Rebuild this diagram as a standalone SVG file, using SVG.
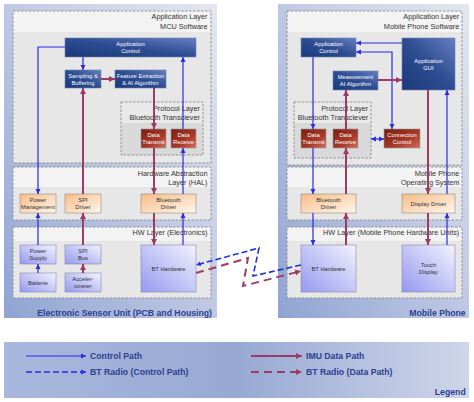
<svg xmlns="http://www.w3.org/2000/svg" width="474" height="402" viewBox="0 0 474 402">
<defs>
<linearGradient id="gPanel" x1="0" y1="1" x2="1" y2="0">
<stop offset="0" stop-color="#8fa3d3"/><stop offset="0.55" stop-color="#c3cce5"/><stop offset="1" stop-color="#e3e7f1"/>
</linearGradient>
<linearGradient id="gLegend" x1="0" y1="0" x2="1" y2="0">
<stop offset="0" stop-color="#a9b8de"/><stop offset="0.5" stop-color="#97a9d3"/><stop offset="1" stop-color="#cfd6ea"/>
</linearGradient>
<linearGradient id="gBlue" x1="0" y1="1" x2="1" y2="0">
<stop offset="0" stop-color="#1c3878"/><stop offset="0.5" stop-color="#2d4c92"/><stop offset="1" stop-color="#6680c0"/>
</linearGradient>
<linearGradient id="gRed" x1="0" y1="0" x2="1" y2="1">
<stop offset="0" stop-color="#7c1d0f"/><stop offset="0.6" stop-color="#a8392a"/><stop offset="1" stop-color="#d2705e"/>
</linearGradient>
<linearGradient id="gOrange" x1="0" y1="0" x2="1" y2="1">
<stop offset="0" stop-color="#f6bd87"/><stop offset="1" stop-color="#fff6ee"/>
</linearGradient>
<linearGradient id="gLav" x1="0" y1="1" x2="1" y2="0">
<stop offset="0" stop-color="#9599ee"/><stop offset="1" stop-color="#f3f3ff"/>
</linearGradient>
<marker id="ab" markerUnits="userSpaceOnUse" markerWidth="6" markerHeight="6" refX="5" refY="3" orient="auto-start-reverse">
<path d="M0,0.5 L5,3 L0,5.5 z" fill="#2b2be8"/>
</marker>
<marker id="ar" markerUnits="userSpaceOnUse" markerWidth="7" markerHeight="7" refX="6" refY="3.5" orient="auto">
<path d="M0,0.5 L6,3.5 L0,6.5 z" fill="#9c3b63"/>
</marker>
<style>
.panel{fill:url(#gPanel)}
.lay{fill:#e7e7e7}
.hdr{fill:#f3f3f3}
.prot{fill:#d9d9d9}
.phdr{fill:#e9e9e9}
.dash{fill:none;stroke:#8a8a8a;stroke-width:0.9;stroke-dasharray:2.5,1.5}
.nb{fill:url(#gBlue);stroke:#6f82b2;stroke-width:0.6}
.nr{fill:url(#gRed);stroke:#9a9a9a;stroke-width:0.6}
.no{fill:url(#gOrange);stroke:#9a8a7a;stroke-width:0.6}
.nh{fill:url(#gLav);stroke:#8888aa;stroke-width:0.6}
text{font-family:"Liberation Sans",Arial,sans-serif}
.lt{font-size:7.3px;fill:#333;text-anchor:end}
.wt{font-size:5.8px;fill:#fff;text-anchor:middle}
.dt{font-size:5.8px;fill:#333;text-anchor:middle}
.big{font-size:8.7px;font-weight:bold;fill:#2e3f8e;text-anchor:end}
.leg{font-size:8.7px;font-weight:bold;fill:#2e3f8e}
.cb{fill:none;stroke:#2b2be8;stroke-width:1.2;marker-end:url(#ab)}
.cb2{fill:none;stroke:#2b2be8;stroke-width:1.2;marker-end:url(#ab);marker-start:url(#ab)}
.cr{fill:none;stroke:#9c3b63;stroke-width:2;marker-end:url(#ar)}
.db{fill:none;stroke:#1f2fe0;stroke-width:1.6;stroke-dasharray:6,3;marker-end:url(#ab)}
.dr{fill:none;stroke:#9c3b63;stroke-width:2;stroke-dasharray:8,5;marker-end:url(#ar)}
</style>
</defs>
<rect width="474" height="402" fill="#ffffff"/>

<!-- Left panel -->
<g id="sensor-unit">
<rect class="panel" x="4" y="4" width="213" height="314"/>
<text class="big" x="212" y="316">Electronic Sensor Unit (PCB and Housing)</text>
</g>
<g id="left-app-layer">
<rect class="lay" x="13" y="11" width="198" height="152"/>
<rect class="hdr" x="13" y="11" width="198" height="21"/>
<rect class="dash" x="13" y="11" width="198" height="152"/>
<text class="lt" x="207.5" y="19.3">Application Layer</text>
<text class="lt" x="207.5" y="28.6">MCU Software</text>
</g>
<g id="left-protocol-layer">
<rect class="prot" x="121" y="102" width="82" height="53"/>
<rect class="phdr" x="121" y="102" width="82" height="21"/>
<rect class="dash" x="121" y="102" width="82" height="53"/>
<text class="lt" x="200" y="111">Protocol Layer</text>
<text class="lt" x="200" y="120">Bluetooth Transciever</text>
</g>
<g id="left-hal-layer">
<rect class="lay" x="13" y="167" width="198" height="53"/>
<rect class="hdr" x="13" y="167" width="198" height="20"/>
<rect class="dash" x="13" y="167" width="198" height="53"/>
<text class="lt" x="207.5" y="175.6">Hardware Abstraction</text>
<text class="lt" x="207.5" y="184.6">Layer (HAL)</text>
</g>
<g id="left-hw-layer">
<rect class="lay" x="13" y="227" width="198" height="71"/>
<rect class="hdr" x="13" y="227" width="198" height="14"/>
<rect class="dash" x="13" y="227" width="198" height="71"/>
<text class="lt" x="207.5" y="235.3">HW Layer (Electronics)</text>
</g>

<!-- Right panel -->
<g id="mobile-phone">
<rect class="panel" x="278" y="4" width="191" height="314"/>
<text class="big" x="465.7" y="316">Mobile Phone</text>
</g>
<g id="right-app-layer">
<rect class="lay" x="287" y="11" width="175" height="154"/>
<rect class="hdr" x="287" y="11" width="175" height="21"/>
<rect class="dash" x="287" y="11" width="175" height="154"/>
<text class="lt" x="459.3" y="19.3">Application Layer</text>
<text class="lt" x="459.3" y="28.6">Mobile Phone Software</text>
</g>
<g id="right-protocol-layer">
<rect class="prot" x="294" y="102" width="77" height="56"/>
<rect class="phdr" x="294" y="102" width="77" height="21"/>
<rect class="dash" x="294" y="102" width="77" height="56"/>
<text class="lt" x="368.3" y="111">Protocol Layer</text>
<text class="lt" x="368.3" y="120">Bluetooth Transciever</text>
</g>
<g id="right-os-layer">
<rect class="lay" x="287" y="167" width="175" height="53"/>
<rect class="hdr" x="287" y="167" width="175" height="20"/>
<rect class="dash" x="287" y="167" width="175" height="53"/>
<text class="lt" x="459.3" y="175.6">Mobile Phone</text>
<text class="lt" x="459.3" y="184.6">Operating System</text>
</g>
<g id="right-hw-layer">
<rect class="lay" x="287" y="227" width="175" height="71"/>
<rect class="hdr" x="287" y="227" width="175" height="14"/>
<rect class="dash" x="287" y="227" width="175" height="71"/>
<text class="lt" x="459.3" y="235.3">HW Layer (Mobile Phone Hardware Units)</text>
</g>

<!-- Left nodes -->
<g id="l-app-control"><rect class="nb" x="65" y="38" width="131" height="19"/><text class="wt" x="130.5" y="46.4">Application</text><text class="wt" x="130.5" y="53.4">Control</text></g>
<g id="l-sampling"><rect class="nb" x="65" y="70" width="36" height="18"/><text class="wt" x="83" y="77.9">Sampling &amp;</text><text class="wt" x="83" y="84.9">Buffering</text></g>
<g id="l-feature"><rect class="nb" x="115" y="70" width="51" height="18"/><text class="wt" x="140.5" y="77.9">Feature Extraction</text><text class="wt" x="140.5" y="84.9">&amp; AI Algorithm</text></g>
<g id="l-data-transmit"><rect class="nr" x="141" y="129" width="25" height="19"/><text class="wt" x="153.5" y="137.4">Data</text><text class="wt" x="153.5" y="144.4">Transmit</text></g>
<g id="l-data-receive"><rect class="nr" x="171" y="129" width="25" height="19"/><text class="wt" x="183.5" y="137.4">Data</text><text class="wt" x="183.5" y="144.4">Receive</text></g>
<g id="l-power-mgmt"><rect class="no" x="20" y="194" width="36" height="19"/><text class="dt" x="38" y="202.4">Power</text><text class="dt" x="38" y="209.4">Management</text></g>
<g id="l-spi-driver"><rect class="no" x="65" y="194" width="36" height="19"/><text class="dt" x="83" y="202.4">SPI</text><text class="dt" x="83" y="209.4">Driver</text></g>
<g id="l-bt-driver"><rect class="no" x="141" y="194" width="55" height="19"/><text class="dt" x="168.5" y="202.4">Bluetooth</text><text class="dt" x="168.5" y="209.4">Driver</text></g>
<g id="l-power-supply"><rect class="nh" x="20" y="245" width="36" height="19"/><text class="dt" x="38" y="253.4">Power</text><text class="dt" x="38" y="260.4">Supply</text></g>
<g id="l-batterie"><rect class="nh" x="20" y="273" width="36" height="19"/><text class="dt" x="38" y="284.5">Batterie</text></g>
<g id="l-spi-bus"><rect class="nh" x="65" y="245" width="36" height="19"/><text class="dt" x="83" y="253.4">SPI</text><text class="dt" x="83" y="260.4">Bus</text></g>
<g id="l-accel"><rect class="nh" x="65" y="273" width="36" height="19"/><text class="dt" x="83" y="281.4">Acceler-</text><text class="dt" x="83" y="288.4">ometer</text></g>
<g id="l-bt-hw"><rect class="nh" x="141" y="245" width="55" height="47"/><text class="dt" x="168.5" y="270.5">BT Hardware</text></g>

<!-- Right nodes -->
<g id="r-app-control"><rect class="nb" x="301" y="38" width="55" height="19"/><text class="wt" x="328.5" y="46.4">Application</text><text class="wt" x="328.5" y="53.4">Control</text></g>
<g id="r-app-gui"><rect class="nb" x="402" y="38" width="53" height="52"/><text class="wt" x="428.5" y="63">Application</text><text class="wt" x="428.5" y="70">GUI</text></g>
<g id="r-measurement"><rect class="nb" x="333" y="71" width="45" height="19"/><text class="wt" x="355.5" y="79.4">Measurement</text><text class="wt" x="355.5" y="86.4">AI Algorithm</text></g>
<g id="r-data-transmit"><rect class="nr" x="301" y="129" width="25" height="19"/><text class="wt" x="313.5" y="137.4">Data</text><text class="wt" x="313.5" y="144.4">Transmit</text></g>
<g id="r-data-receive"><rect class="nr" x="333" y="129" width="25" height="19"/><text class="wt" x="345.5" y="137.4">Data</text><text class="wt" x="345.5" y="144.4">Receive</text></g>
<g id="r-connection"><rect class="nr" x="384" y="129" width="36" height="19"/><text class="wt" x="402" y="137.4">Connection</text><text class="wt" x="402" y="144.4">Control</text></g>
<g id="r-bt-driver"><rect class="no" x="301" y="194" width="55" height="19"/><text class="dt" x="328.5" y="202.4">Bluetooth</text><text class="dt" x="328.5" y="209.4">Driver</text></g>
<g id="r-display-driver"><rect class="no" x="402" y="194" width="53" height="19"/><text class="dt" x="428.5" y="205.6">Display Driver</text></g>
<g id="r-bt-hw"><rect class="nh" x="301" y="245" width="55" height="47"/><text class="dt" x="328.5" y="270.5">BT Hardware</text></g>
<g id="r-touch"><rect class="nh" x="402" y="245" width="53" height="47"/><text class="dt" x="428.5" y="267">Touch</text><text class="dt" x="428.5" y="274">Display</text></g>

<!-- Connectors -->
<g id="connectors">
<path class="cb" d="M65,47 H38 V194"/>
<path class="cb" d="M83,57 V70"/>
<path class="cb" d="M183,129 V57"/>
<path class="cb" d="M183,194 V148"/>
<path class="cb" d="M38,245 V213"/>
<path class="cb" d="M183,245 V213"/>
<path class="cb" d="M38,273 V264"/>
<path class="cr" d="M101,79 H115"/>
<path class="cr" d="M154,88 V129"/>
<path class="cr" d="M83,194 V88"/>
<path class="cr" d="M154,148 V194"/>
<path class="cr" d="M83,245 V213"/>
<path class="cr" d="M154,213 V245"/>
<path class="cr" d="M83,273 V264"/>

<path class="cb" d="M402,43 H356"/>
<path class="cb2" d="M356,52 H392 V129"/>
<path class="cb" d="M313,57 V129"/>
<path class="cb2" d="M371,139 H384"/>
<path class="cb" d="M447,194 V90"/>
<path class="cb" d="M313,148 V194"/>
<path class="cb" d="M313,213 V245"/>
<path class="cb" d="M447,245 V213"/>
<path class="cr" d="M378,80 H402"/>
<path class="cr" d="M346,129 V90"/>
<path class="cr" d="M428,90 V194"/>
<path class="cr" d="M346,194 V148"/>
<path class="cr" d="M346,245 V213"/>
<path class="cr" d="M428,213 V245"/>

<path class="db" d="M301,265 L253,276 L259,248 L196,265"/>
<path class="dr" d="M196,273 L248,258 L243,286 L301,271"/>
</g>

<!-- Legend -->
<g id="legend">
<rect x="4" y="342" width="465" height="56" fill="url(#gLegend)"/>
<path class="cb" d="M26,356 H86"/>
<text class="leg" x="90" y="359">Control Path</text>
<path class="db" d="M26,372 H86"/>
<text class="leg" x="90" y="375">BT Radio (Control Path)</text>
<path class="cr" d="M251,356 H302"/>
<text class="leg" x="306" y="359">IMU Data Path</text>
<path class="dr" d="M251,372 H302"/>
<text class="leg" x="306" y="375">BT Radio (Data Path)</text>
<text class="big" x="465.7" y="395.4">Legend</text>
</g>
</svg>
